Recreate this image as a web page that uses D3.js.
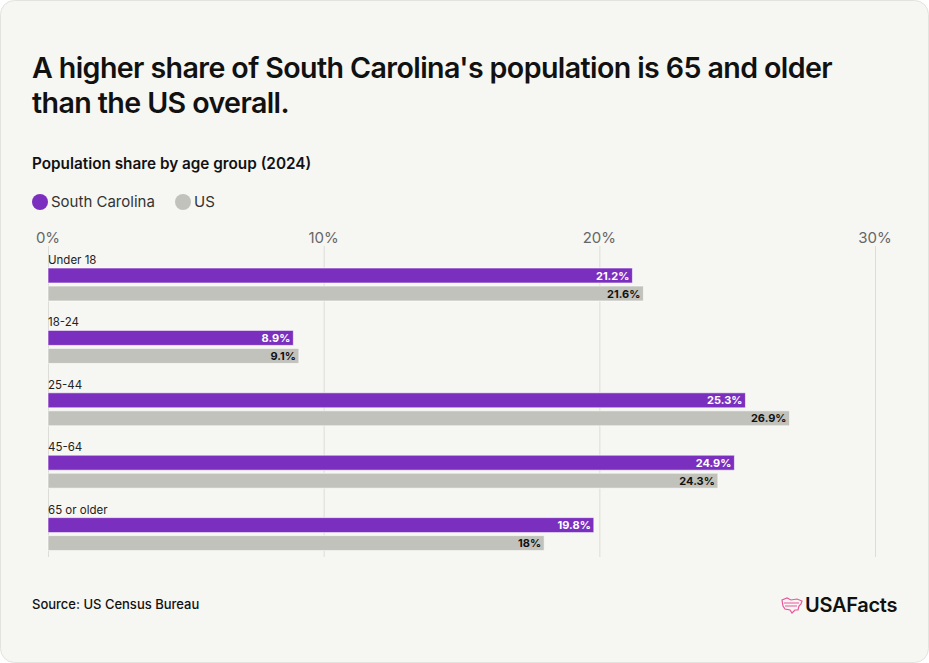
<!DOCTYPE html>
<html lang="en">
<head>
<meta charset="UTF-8">
<title>SC population by age</title>
<script src="https://cdn.jsdelivr.net/npm/d3@7"></script>
<style>
  body { margin: 0; background: #fff; }
  text { font-family: Inter, "Noto Sans", sans-serif; }
</style>
</head>
<body>
<script>
var width = 929, height = 663;

var categories = ["Under 18", "18-24", "25-44", "45-64", "65 or older"];
var seriesNames = ["South Carolina", "US"];
var southCarolina = [21.2, 8.9, 25.3, 24.9, 19.8];
var us = [21.6, 9.1, 26.9, 24.3, 18];
var valueLabels = [["21.2%", "8.9%", "25.3%", "24.9%", "19.8%"], ["21.6%", "9.1%", "26.9%", "24.3%", "18%"]];
var ticks = [0, 10, 20, 30];

var colors = ["#7B2FBE", "#C2C2BC"];

var svg = d3.select("body").append("svg")
    .attr("width", width).attr("height", height);

// card
svg.append("rect")
    .attr("x", 0.5).attr("y", 0.5)
    .attr("width", width - 1).attr("height", height - 1)
    .attr("rx", 14)
    .attr("fill", "#F6F6F2").attr("stroke", "#E2E2DE");

// title
var title = svg.append("text").attr("x", 32).attr("y", 78)
    .attr("font-size", 28.6).attr("font-weight", 600).attr("fill", "#111")
    .attr("letter-spacing", -0.6);
title.append("tspan").attr("x", 32).text("A higher share of South Carolina's population is 65 and older");
title.append("tspan").attr("x", 32).attr("dy", 35).text("than the US overall.");

svg.append("text").attr("x", 32).attr("y", 169)
    .attr("font-size", 15.3).attr("font-weight", 600).attr("fill", "#111")
    .text("Population share by age group (2024)");

// legend
var leg = svg.append("g").attr("transform", "translate(0,202)");
var legX = [40, 183];
seriesNames.forEach(function (n, i) {
    leg.append("circle").attr("cx", legX[i]).attr("cy", 0).attr("r", 8).attr("fill", colors[i]);
    leg.append("text").attr("x", legX[i] + 11).attr("y", 5)
        .attr("font-size", 15).attr("fill", "#333").text(n);
});

var x = d3.scaleLinear().domain([0, 30]).range([48, 875]);
var y = d3.scaleBand().domain(categories).range([252, 564]).paddingInner(0).paddingOuter(0);

// grid
svg.selectAll("line.grid").data(ticks).enter().append("line")
    .attr("x1", function (d) { return x(d) + 0.5; })
    .attr("x2", function (d) { return x(d) + 0.5; })
    .attr("y1", 246).attr("y2", 557)
    .attr("stroke", "#DDDDD8").attr("stroke-width", 1);

svg.selectAll("text.tick").data(ticks).enter().append("text")
    .attr("x", function (d) { return x(d); })
    .attr("y", 243)
    .attr("text-anchor", "middle")
    .attr("font-size", 15).attr("fill", "#666")
    .text(function (d) { return d + "%"; });

var groups = svg.selectAll("g.cat").data(categories).enter().append("g")
    .attr("transform", function (d) { return "translate(0," + y(d) + ")"; });

groups.append("text").attr("x", 48).attr("y", 12)
    .attr("font-size", 11.5).attr("fill", "#222")
    .text(function (d) { return d; });

var series = [southCarolina, us];
series.forEach(function (vals, s) {
    groups.append("rect")
        .attr("x", x(0))
        .attr("y", 16 + s * 18)
        .attr("width", function (d, i) { return x(vals[i]) - x(0); })
        .attr("height", 15)
        .attr("fill", colors[s])
        .attr("stroke", "#fff").attr("stroke-opacity", 0.6).attr("stroke-width", 1);
    groups.append("text")
        .attr("x", function (d, i) { return x(vals[i]) - 3; })
        .attr("y", 16 + s * 18 + 11.5)
        .attr("text-anchor", "end")
        .attr("font-size", 11).attr("font-weight", 700)
        .attr("fill", s === 0 ? "#fff" : "#111")
        .text(function (d, i) { return valueLabels[s][i]; });
});

// footer
svg.append("text").attr("x", 32).attr("y", 609)
    .attr("font-size", 13).attr("font-weight", 500).attr("fill", "#111")
    .text("Source: US Census Bureau");

var logo = svg.append("g").attr("transform", "translate(781,597)");
logo.append("path")
    .attr("d", "M1,3 L6,1 L10,3 L16,2 L21,4 L20,7 L18,9 L17,13 L14,13 L11,16 L9,13 L4,12 L2,9 Z M3,6 L18,6 M4,9 L16,9")
    .attr("fill", "none").attr("stroke", "#E8569B").attr("stroke-width", 1.2);
svg.append("text").attr("x", 805).attr("y", 612)
    .attr("font-size", 20).attr("font-weight", 600).attr("fill", "#111")
    .attr("letter-spacing", -0.3)
    .text("USAFacts");
</script>
</body>
</html>
